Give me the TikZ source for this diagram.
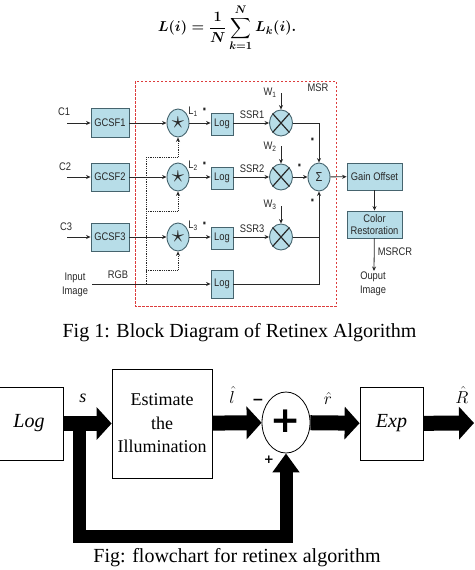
\documentclass[tikz,border=0pt]{standalone}
\usepackage{fontspec}
\usepackage{amsmath}
\setmainfont{Liberation Serif}
\newfontfamily\diagfont{Liberation Sans}[FakeStretch=0.85]
\newfontfamily\symfont{DejaVu Sans}
\usetikzlibrary{shapes.geometric,arrows.meta}
\definecolor{boxfill}{RGB}{183,221,232}
\definecolor{boxline}{RGB}{70,100,110}
\definecolor{txtgray}{RGB}{40,40,40}
\definecolor{msrred}{RGB}{220,60,60}
\newsavebox{\eqbox}
\newcommand{\starsym}{$\star$}
\begin{document}
\sbox{\eqbox}{\fontsize{15.5}{18}\selectfont\boldmath$\displaystyle L(i)=\frac{1}{N}\sum_{k=1}^{N}L_k(i).$}%
\begin{tikzpicture}[x=1pt,y=-1pt,
  lbl/.style={font=\diagfont\fontsize{11}{14}\selectfont, text=txtgray, inner sep=0},
  dotlbl/.style={font=\diagfont\bfseries\fontsize{18}{18}\selectfont, text=txtgray, inner sep=0},
  blk/.style={draw=boxline, fill=boxfill, line width=0.9pt, inner sep=0,
    font=\diagfont\fontsize{11}{12}\selectfont, text=txtgray},
  ell/.style={ellipse, draw=boxline, fill=boxfill, line width=0.9pt, inner sep=0,
    minimum width=22pt, minimum height=28pt, text=txtgray},
  arr/.style={draw=txtgray, line width=0.8pt, -{Stealth[length=4.5pt,width=4pt]}},
  ln/.style={draw=txtgray, line width=0.8pt},
  dotl/.style={draw=txtgray, line width=0.8pt, densely dotted},
  msr/.style={draw=msrred, line width=0.9pt, dash pattern=on 2.5pt off 1.5pt},
  box2/.style={draw=black, line width=0.8pt, inner sep=0},
  fat/.style={draw=black, line width=15pt, -{Triangle[length=15pt,width=32pt]}},
  fatline/.style={draw=black, line width=13pt, line join=miter, -{Triangle[length=19pt,width=26pt]}},
  mathlbl/.style={font=\fontsize{18}{23.5}\selectfont, inner sep=0}
]
\useasboundingbox (0,0) rectangle (474,570);
\draw[msr] (135,81) rectangle (336,306);
\node[lbl] (msrl) at (318,88) {MSR};
\node[lbl] (c1) at (64,112) {C1};
\node[lbl] (c2) at (65,167) {C2};
\node[lbl] (c3) at (66,227) {C3};
\coordinate (c1s) at (67,123);
\coordinate (c2s) at (67,177);
\coordinate (c3s) at (67,237);
\node[blk, minimum width=38pt, minimum height=29pt] (g1) at (110,123) {GCSF1};
\node[blk, minimum width=38pt, minimum height=28pt] (g2) at (110,177) {GCSF2};
\node[blk, minimum width=38pt, minimum height=28pt] (g3) at (110,237) {GCSF3};
\node[ell, font=\fontsize{26}{26}\selectfont] (s1) at (178,123) {\starsym};
\node[ell, font=\fontsize{26}{26}\selectfont] (s2) at (178,177) {\starsym};
\node[ell, font=\fontsize{26}{26}\selectfont] (s3) at (178,237) {\starsym};
\node[blk, minimum width=22pt, minimum height=22pt] (l1) at (222,124) {Log};
\node[blk, minimum width=22pt, minimum height=22pt] (l2) at (222,178) {Log};
\node[blk, minimum width=22pt, minimum height=22pt] (l3) at (222,238) {Log};
\node[blk, minimum width=22pt, minimum height=28pt] (l4) at (222,284) {Log};
\node[ell, minimum width=23pt, minimum height=26pt] (x1) at (281,123) {};
\node[ell, minimum width=23pt, minimum height=26pt] (x2) at (281,177) {};
\node[ell, minimum width=23pt, minimum height=26pt] (x3) at (281,237) {};
\draw[draw=txtgray, line width=1.2pt] (x1.north east) -- (x1.south west) (x1.north west) -- (x1.south east);
\draw[draw=txtgray, line width=1.2pt] (x2.north east) -- (x2.south west) (x2.north west) -- (x2.south east);
\draw[draw=txtgray, line width=1.2pt] (x3.north east) -- (x3.south west) (x3.north west) -- (x3.south east);
\node[ell, font=\diagfont\fontsize{13}{13}\selectfont] (sg) at (319,177) {Σ};
\node[blk, minimum width=55pt, minimum height=27pt] (gain) at (374.5,176.5) {Gain Offset};
\node[blk, minimum width=55pt, minimum height=27pt, align=center] (col) at (374.5,224.5) {Color\\Restoration};
\coordinate (outc) at (374,271);
\node[lbl] (msrcr) at (395,252) {MSRCR};
\node[lbl, align=center] (outl) at (373,284) {Ouput\\Image};
\node[lbl, align=center] (inl) at (75,285) {Input\\Image};
\node[lbl] (rgb) at (118,275) {RGB};
\coordinate (ins) at (92,284);
\node[lbl] (L1) at (193,112) {L\textsubscript{1}};
\node[lbl] (L2) at (193,166) {L\textsubscript{2}};
\node[lbl] (L3) at (193,226) {L\textsubscript{3}};
\node[dotlbl] (d1) at (205,112) {·};
\node[dotlbl] (d2) at (205,166) {·};
\node[dotlbl] (d3) at (205,226) {·};
\node[lbl] (ssr1) at (252,115) {SSR1};
\node[lbl] (ssr2) at (252,169) {SSR2};
\node[lbl] (ssr3) at (252,229) {SSR3};
\node[lbl] (w1) at (270,93) {W\textsubscript{1}};
\node[lbl] (w2) at (270,147) {W\textsubscript{2}};
\node[lbl] (w3) at (270,205) {W\textsubscript{3}};
\coordinate (w1s) at (281,93);
\coordinate (w2s) at (281,146);
\coordinate (w3s) at (281,206);
\node[dotlbl] (p1) at (313,142) {·};
\node[dotlbl] (p2) at (300,168) {·};
\node[dotlbl] (p3) at (313,203) {·};
\draw[arr] (c1s) -- (g1);
\draw[arr] (c2s) -- (g2);
\draw[arr] (c3s) -- (g3);
\draw[arr] (g1) -- (s1);
\draw[arr] (g2) -- (s2);
\draw[arr] (g3) -- (s3);
\draw[arr] (s1) -- (s1 -| l1.west);
\draw[arr] (s2) -- (s2 -| l2.west);
\draw[arr] (s3) -- (s3 -| l3.west);
\draw[arr] (l1.east |- x1) -- (x1);
\draw[arr] (l2.east |- x2) -- (x2);
\draw[arr] (l3.east |- x3) -- (x3);
\draw[arr] (w1s) -- (x1.north);
\draw[arr] (w2s) -- (x2.north);
\draw[arr] (w3s) -- (x3.north);
\draw[arr] (x1.east) -| (sg.north);
\draw[arr] (x2) -- (sg);
\draw[ln] (x3.east) -- (x3.east -| sg.south);
\draw[arr] (l4.east) -| (sg.south);
\draw[arr] (sg) -- (gain);
\draw[arr] (gain) -- (col);
\draw[arr] (col) -- (outc);
\draw[arr] (ins) -- (l4);
\coordinate (dA) at (146,157);
\coordinate (dB) at (146,211);
\coordinate (dC) at (146,270);
\coordinate (dD) at (146,284);
\draw[dotl] (dD) -- (dA);
\draw[dotl, -{Stealth[length=4.5pt,width=4pt]}] (dA) -- (dA -| s1.south) -- (s1.south);
\draw[dotl, -{Stealth[length=4.5pt,width=4pt]}] (dB) -- (dB -| s2.south) -- (s2.south);
\draw[dotl, -{Stealth[length=4.5pt,width=4pt]}] (dC) -- (dC -| s3.south) -- (s3.south);
\node[font=\fontsize{20}{22}\selectfont] (cap1) at (239.5,333) {Fig 1: Block Diagram of Retinex Algorithm};
\node[box2, minimum width=69pt, minimum height=73pt] (logb) at (28.5,423.5) {};
\node[inner sep=0, font=\fontsize{20}{20}\selectfont\itshape] (logt) at (29,423) {Log};
\node[box2, minimum width=100pt, minimum height=109pt, align=center, font=\fontsize{18}{23.5}\selectfont] (est) at (162,423.5) {Estimate\\the\\Illumination};
\node[ellipse, draw=black, line width=0.8pt, minimum width=48pt, minimum height=61pt, inner sep=0] (sum) at (286,422.5) {};
\node[inner sep=0, font=\symfont\bfseries\fontsize{36}{36}\selectfont] (plus) at (286,421) {+};
\node[box2, minimum width=63pt, minimum height=73pt, font=\fontsize{20}{20}\selectfont\itshape] (exp) at (391.5,423.5) {Exp};
\coordinate (outR) at (474,423);
\draw[fat] (logb.east) -- (est.west);
\draw[fat] (est) -- (sum);
\draw[fat] (sum) -- (exp);
\draw[fat] (exp) -- (outR);
\coordinate (fb0) at (79,423);
\coordinate (fb1) at (79,536);
\draw[fatline] (fb0) -- (fb1) -- (fb1 -| sum.south) -- (sum.south);
\node[inner sep=0, font=\fontsize{18}{18}\selectfont\itshape] (sl) at (83,398) {s};
\node[mathlbl] (lhat) at (232,395) {$\hat{l}$};
\node[mathlbl] (rhat) at (328,398) {$\hat{r}$};
\node[mathlbl] (Rhat) at (462,395) {$\hat{R}$};
\node[inner sep=0, font=\symfont\bfseries\fontsize{14}{14}\selectfont] (minus) at (258,402) {−};
\node[inner sep=0, font=\symfont\bfseries\fontsize{12}{12}\selectfont] (plus2) at (269,460) {+};
\node[font=\fontsize{20}{22}\selectfont] (cap2) at (237,558) {Fig: flowchart for retinex algorithm};
\node (formula) at (227,28) {\usebox{\eqbox}};
\end{tikzpicture}
\end{document}
